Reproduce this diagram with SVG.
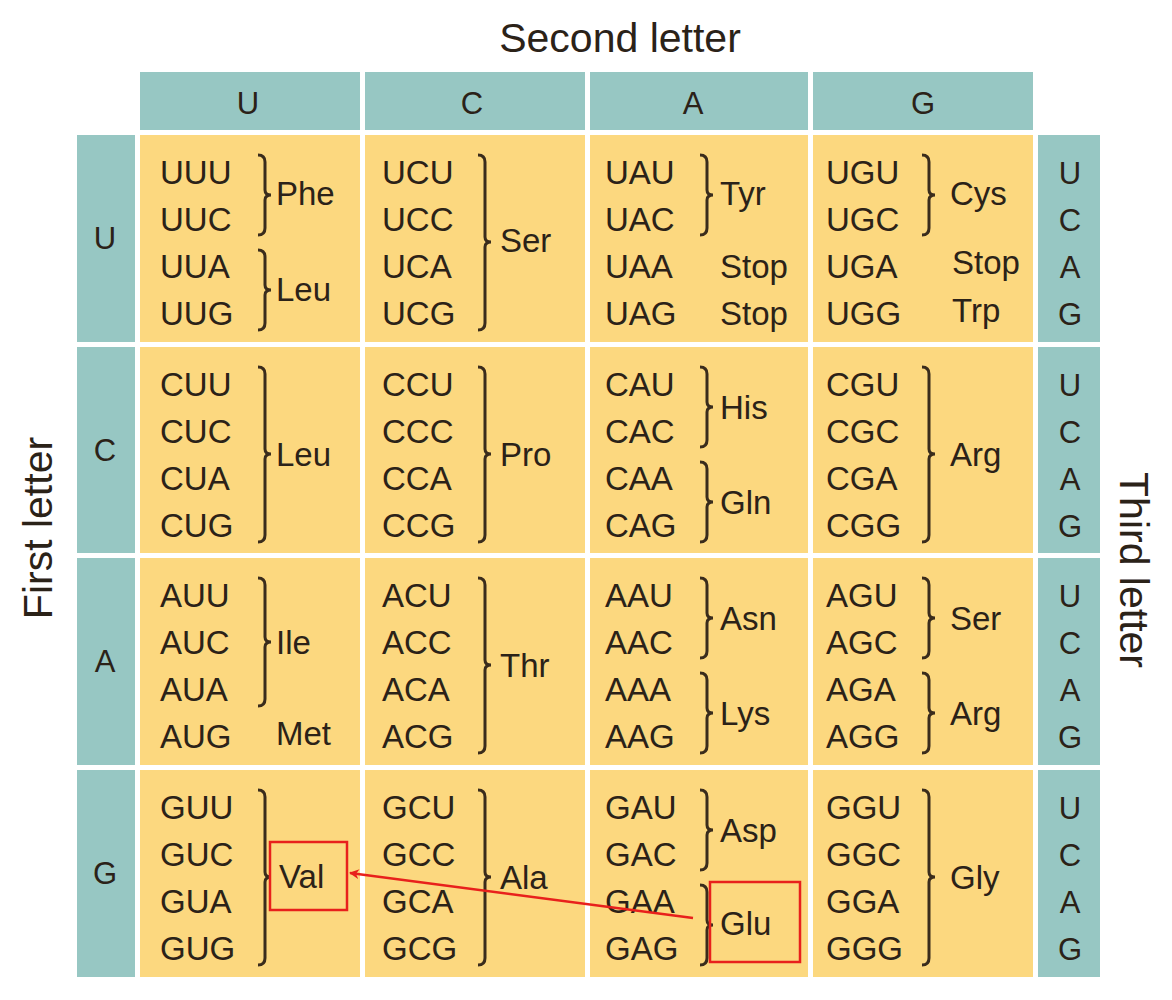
<svg xmlns="http://www.w3.org/2000/svg" width="1172" height="1000" viewBox="0 0 1172 1000">
<style>
text{font-family:"Liberation Sans",Arial,sans-serif;fill:#2b2218}
.c{font-size:33px}
.h{font-size:31px;text-anchor:middle}
.t{font-size:41px;text-anchor:middle}
.y{fill:#fcd87f}
.g{fill:#97c7c3}
.b{fill:none;stroke:#3a2c1c;stroke-width:3}
</style>
<defs><marker id="ah" markerWidth="10" markerHeight="10" refX="9" refY="5" orient="auto" markerUnits="userSpaceOnUse"><path d="M0,0 L10,5 L0,10 L3,5 Z" fill="#e8201c"/></marker></defs>
<rect width="1172" height="1000" fill="#fff"/>
<text class="t" x="620" y="52">Second letter</text>
<text class="t" transform="translate(52,528) rotate(-90)">First letter</text>
<text class="t" transform="translate(1120,570) rotate(90)">Third letter</text>
<g id="headers">
<rect class="g" x="140" y="72" width="220" height="58"/><rect class="g" x="365" y="72" width="220" height="58"/><rect class="g" x="590" y="72" width="218" height="58"/><rect class="g" x="813" y="72" width="220" height="58"/>
<text class="h" x="248" y="114">U</text><text class="h" x="472" y="114">C</text><text class="h" x="693" y="114">A</text><text class="h" x="923" y="114">G</text>
<rect class="g" x="77" y="135" width="58" height="207"/><rect class="g" x="77" y="347" width="58" height="206"/><rect class="g" x="77" y="558" width="58" height="207"/><rect class="g" x="77" y="770" width="58" height="207"/>
<text class="h" x="105" y="249">U</text><text class="h" x="105" y="461">C</text><text class="h" x="105" y="672">A</text><text class="h" x="105" y="884">G</text>
<rect class="g" x="1038" y="135" width="62" height="207"/><rect class="g" x="1038" y="347" width="62" height="206"/><rect class="g" x="1038" y="558" width="62" height="207"/><rect class="g" x="1038" y="770" width="62" height="207"/>
<text class="h" x="1070" y="184">U</text><text class="h" x="1070" y="231">C</text><text class="h" x="1070" y="278">A</text><text class="h" x="1070" y="325">G</text>
<text class="h" x="1070" y="396">U</text><text class="h" x="1070" y="443">C</text><text class="h" x="1070" y="490">A</text><text class="h" x="1070" y="537">G</text>
<text class="h" x="1070" y="607">U</text><text class="h" x="1070" y="654">C</text><text class="h" x="1070" y="701">A</text><text class="h" x="1070" y="748">G</text>
<text class="h" x="1070" y="819">U</text><text class="h" x="1070" y="866">C</text><text class="h" x="1070" y="913">A</text><text class="h" x="1070" y="960">G</text>
</g>
<g id="cells">
<rect class="y" x="140" y="135" width="220" height="207"/><rect class="y" x="365" y="135" width="220" height="207"/><rect class="y" x="590" y="135" width="218" height="207"/><rect class="y" x="813" y="135" width="220" height="207"/>
<rect class="y" x="140" y="347" width="220" height="206"/><rect class="y" x="365" y="347" width="220" height="206"/><rect class="y" x="590" y="347" width="218" height="206"/><rect class="y" x="813" y="347" width="220" height="206"/>
<rect class="y" x="140" y="558" width="220" height="207"/><rect class="y" x="365" y="558" width="220" height="207"/><rect class="y" x="590" y="558" width="218" height="207"/><rect class="y" x="813" y="558" width="220" height="207"/>
<rect class="y" x="140" y="770" width="220" height="207"/><rect class="y" x="365" y="770" width="220" height="207"/><rect class="y" x="590" y="770" width="218" height="207"/><rect class="y" x="813" y="770" width="220" height="207"/>
</g>
<g id="codons" class="c">
<text class="c" x="160" y="184">UUU</text><text class="c" x="160" y="231">UUC</text><text class="c" x="160" y="278">UUA</text><text class="c" x="160" y="325">UUG</text>
<text class="c" x="382" y="184">UCU</text><text class="c" x="382" y="231">UCC</text><text class="c" x="382" y="278">UCA</text><text class="c" x="382" y="325">UCG</text>
<text class="c" x="605" y="184">UAU</text><text class="c" x="605" y="231">UAC</text><text class="c" x="605" y="278">UAA</text><text class="c" x="605" y="325">UAG</text>
<text class="c" x="826" y="184">UGU</text><text class="c" x="826" y="231">UGC</text><text class="c" x="826" y="278">UGA</text><text class="c" x="826" y="325">UGG</text>
<text class="c" x="160" y="396">CUU</text><text class="c" x="160" y="443">CUC</text><text class="c" x="160" y="490">CUA</text><text class="c" x="160" y="537">CUG</text>
<text class="c" x="382" y="396">CCU</text><text class="c" x="382" y="443">CCC</text><text class="c" x="382" y="490">CCA</text><text class="c" x="382" y="537">CCG</text>
<text class="c" x="605" y="396">CAU</text><text class="c" x="605" y="443">CAC</text><text class="c" x="605" y="490">CAA</text><text class="c" x="605" y="537">CAG</text>
<text class="c" x="826" y="396">CGU</text><text class="c" x="826" y="443">CGC</text><text class="c" x="826" y="490">CGA</text><text class="c" x="826" y="537">CGG</text>
<text class="c" x="160" y="607">AUU</text><text class="c" x="160" y="654">AUC</text><text class="c" x="160" y="701">AUA</text><text class="c" x="160" y="748">AUG</text>
<text class="c" x="382" y="607">ACU</text><text class="c" x="382" y="654">ACC</text><text class="c" x="382" y="701">ACA</text><text class="c" x="382" y="748">ACG</text>
<text class="c" x="605" y="607">AAU</text><text class="c" x="605" y="654">AAC</text><text class="c" x="605" y="701">AAA</text><text class="c" x="605" y="748">AAG</text>
<text class="c" x="826" y="607">AGU</text><text class="c" x="826" y="654">AGC</text><text class="c" x="826" y="701">AGA</text><text class="c" x="826" y="748">AGG</text>
<text class="c" x="160" y="819">GUU</text><text class="c" x="160" y="866">GUC</text><text class="c" x="160" y="913">GUA</text><text class="c" x="160" y="960">GUG</text>
<text class="c" x="382" y="819">GCU</text><text class="c" x="382" y="866">GCC</text><text class="c" x="382" y="913">GCA</text><text class="c" x="382" y="960">GCG</text>
<text class="c" x="605" y="819">GAU</text><text class="c" x="605" y="866">GAC</text><text class="c" x="605" y="913">GAA</text><text class="c" x="605" y="960">GAG</text>
<text class="c" x="826" y="819">GGU</text><text class="c" x="826" y="866">GGC</text><text class="c" x="826" y="913">GGA</text><text class="c" x="826" y="960">GGG</text>
</g>
<g id="braces">
<path class="b" d="M258 155q7 0 7 7V190q0 5 6 5q-6 0 -6 5V228q0 7 -7 7"/>
<path class="b" d="M258 250q7 0 7 7V285q0 5 6 5q-6 0 -6 5V323q0 7 -7 7"/>
<path class="b" d="M478 155q7 0 7 7V237q0 5 6 5q-6 0 -6 5V323q0 7 -7 7"/>
<path class="b" d="M700 155q7 0 7 7V190q0 5 6 5q-6 0 -6 5V228q0 7 -7 7"/>
<path class="b" d="M922 155q7 0 7 7V190q0 5 6 5q-6 0 -6 5V228q0 7 -7 7"/>
<path class="b" d="M258 367q7 0 7 7V449q0 5 6 5q-6 0 -6 5V535q0 7 -7 7"/>
<path class="b" d="M478 367q7 0 7 7V449q0 5 6 5q-6 0 -6 5V535q0 7 -7 7"/>
<path class="b" d="M700 367q7 0 7 7V402q0 5 6 5q-6 0 -6 5V440q0 7 -7 7"/>
<path class="b" d="M700 462q7 0 7 7V497q0 5 6 5q-6 0 -6 5V535q0 7 -7 7"/>
<path class="b" d="M922 367q7 0 7 7V449q0 5 6 5q-6 0 -6 5V535q0 7 -7 7"/>
<path class="b" d="M258 578q7 0 7 7V637q0 5 6 5q-6 0 -6 5V699q0 7 -7 7"/>
<path class="b" d="M478 578q7 0 7 7V660q0 5 6 5q-6 0 -6 5V746q0 7 -7 7"/>
<path class="b" d="M700 578q7 0 7 7V613q0 5 6 5q-6 0 -6 5V651q0 7 -7 7"/>
<path class="b" d="M700 673q7 0 7 7V708q0 5 6 5q-6 0 -6 5V746q0 7 -7 7"/>
<path class="b" d="M922 578q7 0 7 7V613q0 5 6 5q-6 0 -6 5V651q0 7 -7 7"/>
<path class="b" d="M922 673q7 0 7 7V708q0 5 6 5q-6 0 -6 5V746q0 7 -7 7"/>
<path class="b" d="M258 790q7 0 7 7V872q0 5 6 5q-6 0 -6 5V958q0 7 -7 7"/>
<path class="b" d="M478 790q7 0 7 7V872q0 5 6 5q-6 0 -6 5V958q0 7 -7 7"/>
<path class="b" d="M700 790q7 0 7 7V825q0 5 6 5q-6 0 -6 5V863q0 7 -7 7"/>
<path class="b" d="M700 885q7 0 7 7V920q0 5 6 5q-6 0 -6 5V958q0 7 -7 7"/>
<path class="b" d="M922 790q7 0 7 7V872q0 5 6 5q-6 0 -6 5V958q0 7 -7 7"/>
</g>
<g id="aminoacids">
<text class="c" x="276" y="205">Phe</text><text class="c" x="276" y="301">Leu</text><text class="c" x="500" y="252">Ser</text>
<text class="c" x="720" y="205">Tyr</text><text class="c" x="720" y="278">Stop</text><text class="c" x="720" y="325">Stop</text>
<text class="c" x="950" y="205">Cys</text><text class="c" x="952" y="274">Stop</text><text class="c" x="952" y="322">Trp</text>
<text class="c" x="276" y="466">Leu</text><text class="c" x="500" y="466">Pro</text><text class="c" x="720" y="419">His</text><text class="c" x="720" y="514">Gln</text><text class="c" x="950" y="466">Arg</text>
<text class="c" x="276" y="654">Ile</text><text class="c" x="276" y="745">Met</text><text class="c" x="500" y="677">Thr</text><text class="c" x="720" y="630">Asn</text><text class="c" x="720" y="725">Lys</text><text class="c" x="950" y="630">Ser</text><text class="c" x="950" y="725">Arg</text>
<text class="c" x="279" y="888">Val</text><text class="c" x="500" y="889">Ala</text><text class="c" x="720" y="842">Asp</text><text class="c" x="720" y="935">Glu</text><text class="c" x="950" y="889">Gly</text>
</g>
<g id="highlight" fill="none" stroke="#e8201c" stroke-width="2.5">
<rect x="270" y="842" width="77" height="68"/>
<rect x="710" y="882" width="90" height="80"/>
<line x1="693" y1="918" x2="350" y2="873" marker-end="url(#ah)"/>
</g>
</svg>
